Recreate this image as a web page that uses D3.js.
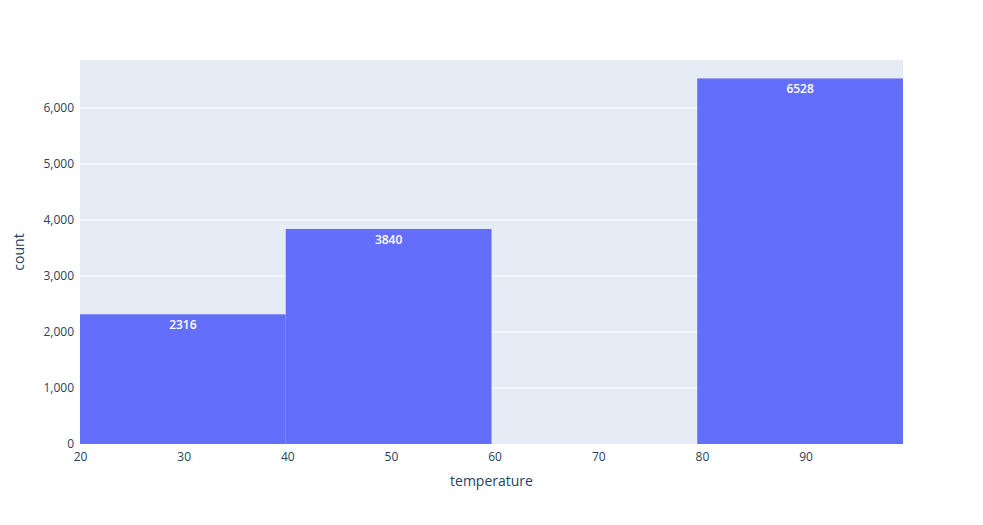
<!DOCTYPE html>
<html><head><meta charset="utf-8">
<script src="https://cdn.jsdelivr.net/npm/d3@7"></script>
<style>body{margin:0;background:#fff;font-family:"Open Sans",sans-serif;}</style>
</head><body><svg id="svg0"></svg>
<script>
// histogram bins: [start, end] and counts
let binStarts = [20, 39.85, 79.55];
let binEnds = [39.85, 59.7, 99.4];
let counts = [2316, 3840, 6528];
let xTicks = [20, 30, 40, 50, 60, 70, 80, 90];
let yTicks = [0, 1000, 2000, 3000, 4000, 5000, 6000];

let width = 983, height = 525;
let margin = {top: 60, right: 80, bottom: 81, left: 80};
let w = width - margin.left - margin.right, h = height - margin.top - margin.bottom;

let svg = d3.select('#svg0').attr('width', width).attr('height', height);
let g = svg.append('g').attr('transform', 'translate(' + margin.left + ',' + margin.top + ')');

let xScale = d3.scaleLinear().domain([20, 99.4]).range([0, w]);
let yScale = d3.scaleLinear().domain([0, 6857]).range([h, 0]);

g.append('rect').attr('width', w).attr('height', h).style('fill', '#E5ECF6');

// gridlines
g.selectAll('.grid').data(yTicks.slice(1)).enter().append('line')
    .attr('x1', 0).attr('x2', w)
    .attr('y1', d => yScale(d)).attr('y2', d => yScale(d))
    .style('stroke', '#fff').style('stroke-width', 1);

let data = counts.map((c, i) => ({x0: binStarts[i], x1: binEnds[i], c: c}));

g.selectAll('.bar').data(data).enter().append('rect')
    .attr('x', d => xScale(d.x0)).attr('width', d => xScale(d.x1) - xScale(d.x0))
    .attr('y', d => yScale(d.c)).attr('height', d => h - yScale(d.c))
    .style('fill', '#636EFA');

g.selectAll('.vtext').data(data).enter().append('text')
    .attr('x', d => (xScale(d.x0) + xScale(d.x1)) / 2)
    .attr('y', d => yScale(d.c) + 15)
    .text(d => d.c)
    .style('fill', '#fff').style('font-size', '12px').style('font-weight', 600)
    .style('text-anchor', 'middle');

// axes
let xAxis = g.append('g').attr('transform', 'translate(0,' + h + ')')
    .call(d3.axisBottom(xScale).tickValues(xTicks).tickSize(0).tickPadding(8));
let yAxis = g.append('g')
    .call(d3.axisLeft(yScale).tickValues(yTicks).tickSize(0).tickPadding(6));
[xAxis, yAxis].forEach(a => {
    a.select('.domain').remove();
    a.selectAll('text').style('fill', '#2a3f5f').style('font-size', '12px').style('font-family', '"Open Sans",sans-serif');
});

svg.append('text').attr('x', margin.left + w / 2).attr('y', 486)
    .text('temperature').style('text-anchor', 'middle').style('fill', '#2a3f5f').style('font-size', '14px');
svg.append('text').attr('transform', 'translate(24,' + (margin.top + h / 2) + ') rotate(-90)')
    .text('count').style('text-anchor', 'middle').style('fill', '#2a3f5f').style('font-size', '14px');
</script>
</body></html>
